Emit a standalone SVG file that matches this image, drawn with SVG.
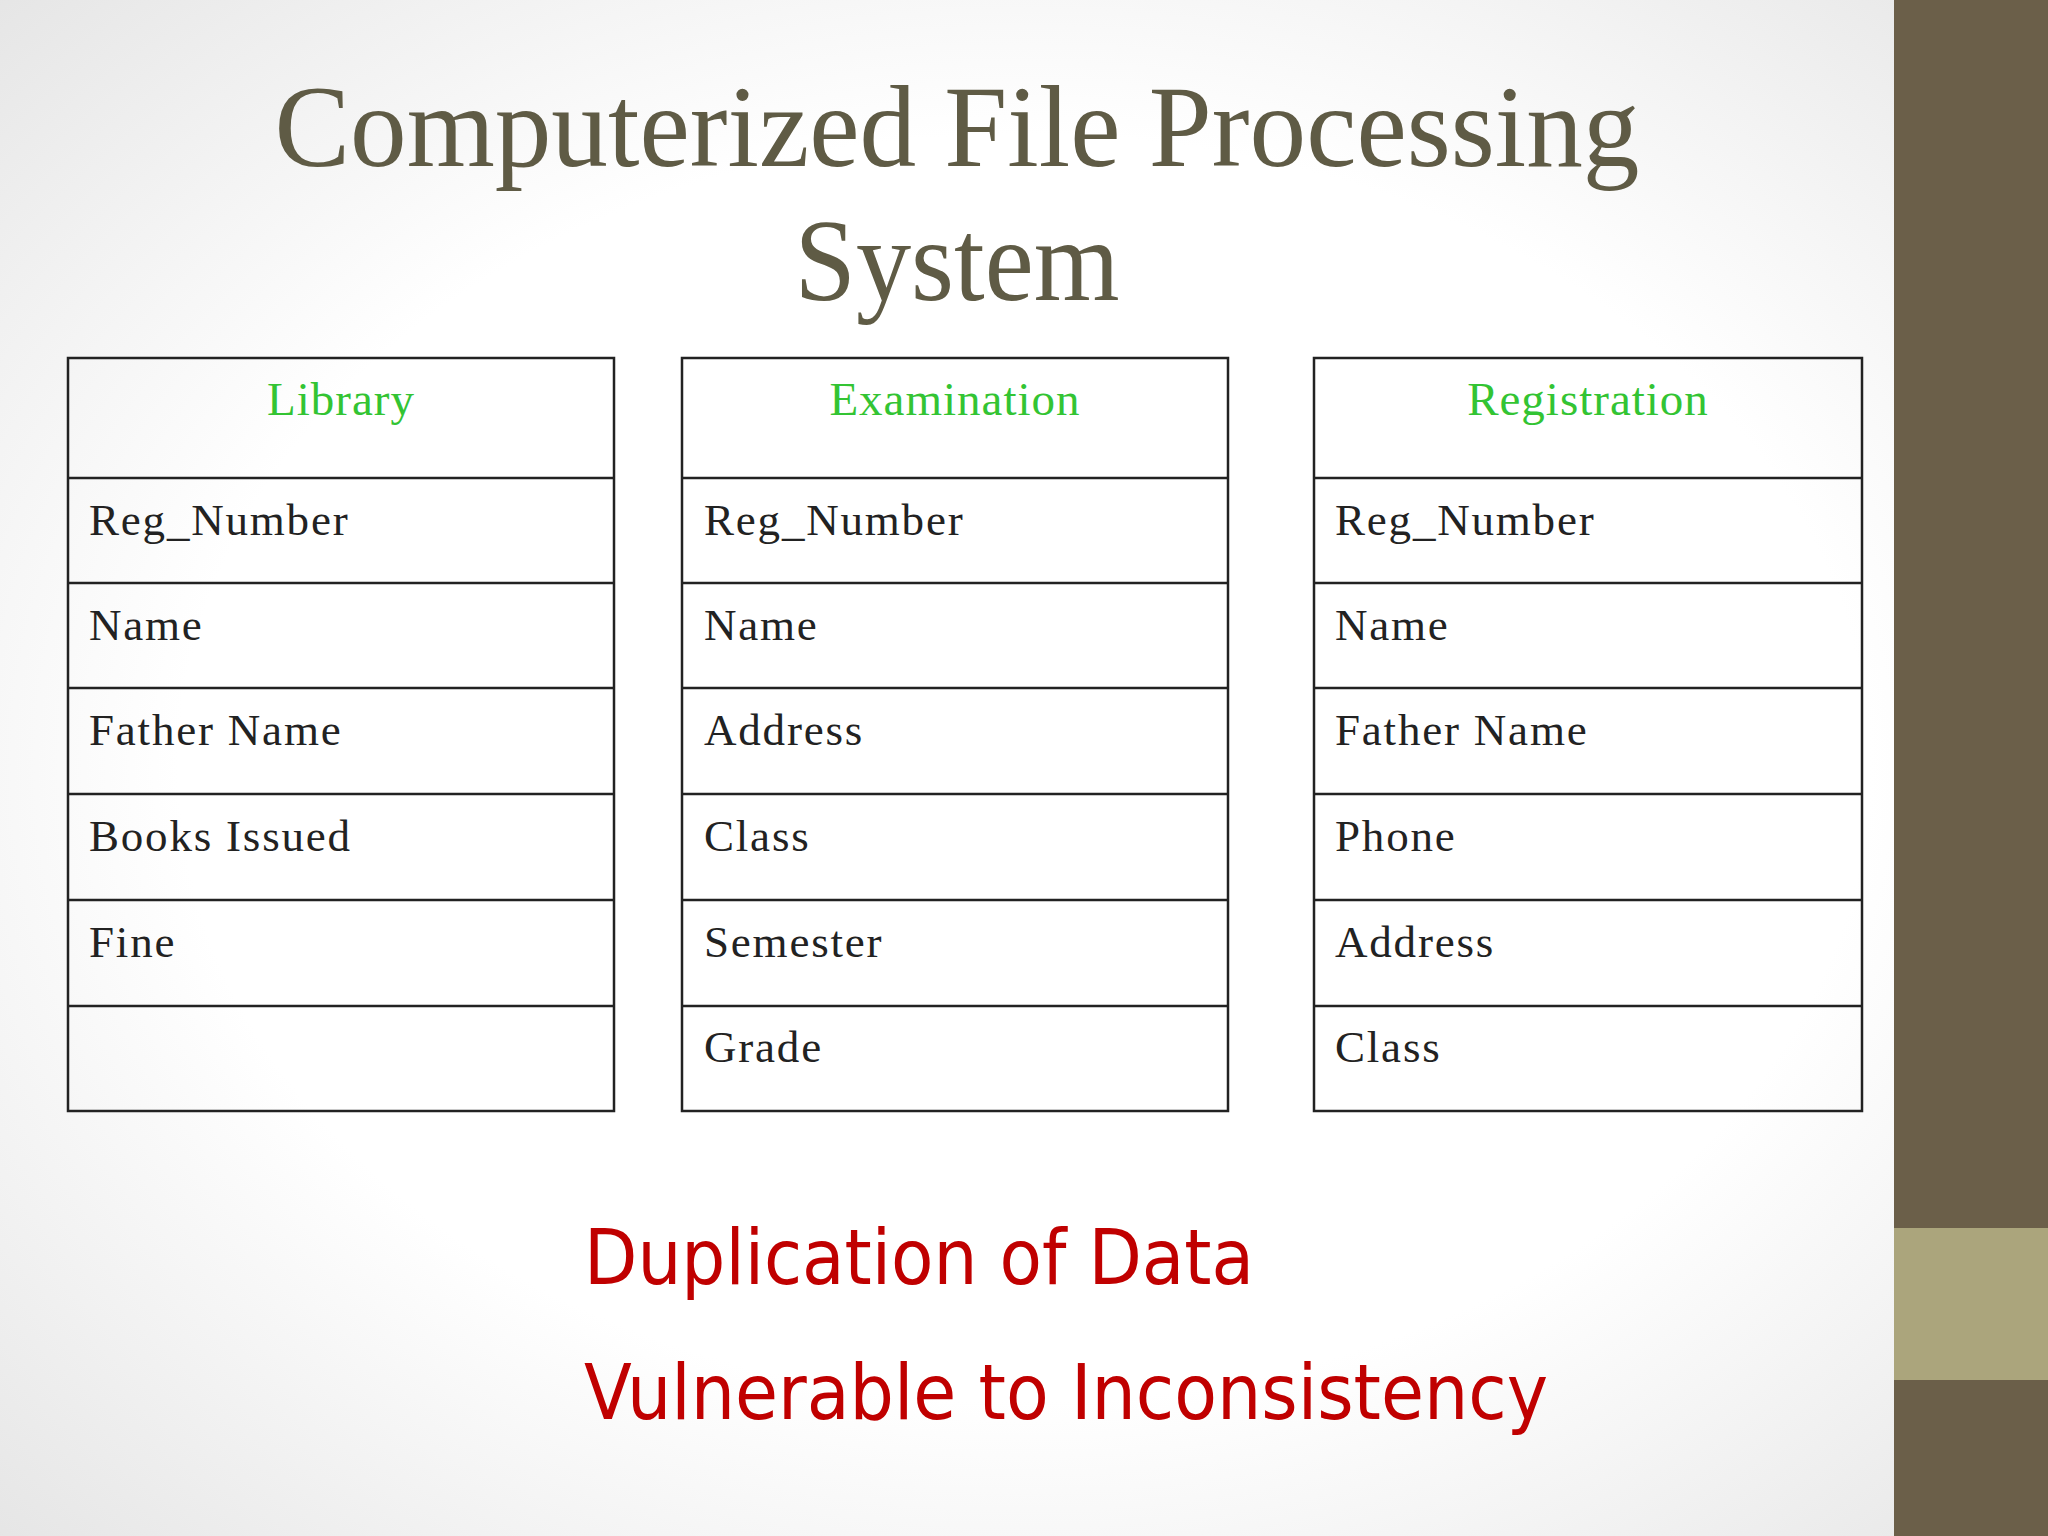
<svg xmlns="http://www.w3.org/2000/svg" width="2048" height="1536" viewBox="0 0 2048 1536">
<defs>
<radialGradient id="bg" cx="0.5" cy="0.5" r="0.75"><stop offset="0.55" stop-color="#ffffff"/><stop offset="1" stop-color="#e2e2e2"/></radialGradient>
<style>
.cell{fill:none;stroke:#222;stroke-width:2.5}
.hd{font-family:"Liberation Serif",serif;font-size:47px;fill:#33c433;text-anchor:middle;letter-spacing:1px}
.f{font-family:"Liberation Serif",serif;font-size:45px;fill:#222;letter-spacing:1.8px}
.t{font-family:"Liberation Serif",serif;font-size:116px;fill:#5f5b45;text-anchor:middle}
.r{font-family:"DejaVu Sans","Liberation Sans",sans-serif;font-size:76px;fill:#c00000}
</style>
</defs>
<rect width="2048" height="1536" fill="url(#bg)"/>
<rect x="1894" y="0" width="154" height="1536" fill="#6b5f49"/>
<rect x="1894" y="1228" width="154" height="152" fill="#aba57c"/>
<text class="t" x="957" y="166" textLength="1365" lengthAdjust="spacingAndGlyphs">Computerized File Processing</text>
<text class="t" x="957" y="300" textLength="325" lengthAdjust="spacingAndGlyphs">System</text>
<g id="library">
<rect class="cell" x="68" y="358" width="546" height="753"/>
<path class="cell" d="M68 478H614M68 583H614M68 688H614M68 794H614M68 900H614M68 1006H614"/>
<text class="hd" x="341" y="415">Library</text>
<text class="f" x="89" y="535">Reg_Number</text>
<text class="f" x="89" y="640">Name</text>
<text class="f" x="89" y="745">Father Name</text>
<text class="f" x="89" y="851">Books Issued</text>
<text class="f" x="89" y="957">Fine</text>
</g>
<g id="examination">
<rect class="cell" x="682" y="358" width="546" height="753"/>
<path class="cell" d="M682 478H1228M682 583H1228M682 688H1228M682 794H1228M682 900H1228M682 1006H1228"/>
<text class="hd" x="955" y="415">Examination</text>
<text class="f" x="704" y="535">Reg_Number</text>
<text class="f" x="704" y="640">Name</text>
<text class="f" x="704" y="745">Address</text>
<text class="f" x="704" y="851">Class</text>
<text class="f" x="704" y="957">Semester</text>
<text class="f" x="704" y="1062">Grade</text>
</g>
<g id="registration">
<rect class="cell" x="1314" y="358" width="548" height="753"/>
<path class="cell" d="M1314 478H1862M1314 583H1862M1314 688H1862M1314 794H1862M1314 900H1862M1314 1006H1862"/>
<text class="hd" x="1588" y="415">Registration</text>
<text class="f" x="1335" y="535">Reg_Number</text>
<text class="f" x="1335" y="640">Name</text>
<text class="f" x="1335" y="745">Father Name</text>
<text class="f" x="1335" y="851">Phone</text>
<text class="f" x="1335" y="957">Address</text>
<text class="f" x="1335" y="1062">Class</text>
</g>
<g id="connectors"/>
<text class="r" x="584" y="1284" textLength="670" lengthAdjust="spacingAndGlyphs">Duplication of Data</text>
<text class="r" x="584" y="1419" textLength="964" lengthAdjust="spacingAndGlyphs">Vulnerable to Inconsistency</text>
</svg>
